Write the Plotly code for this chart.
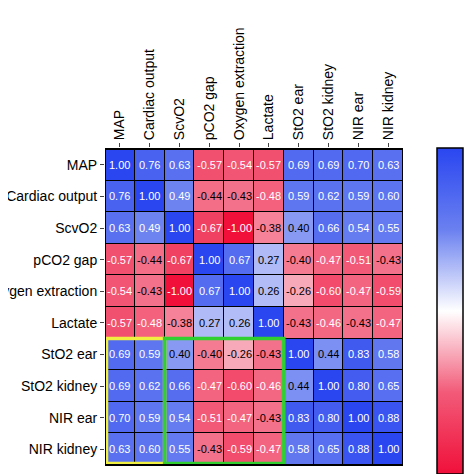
import plotly.graph_objects as go

labels = ["MAP", "Cardiac output", "ScvO2", "pCO2 gap", "Oxygen extraction", "Lactate",
          "StO2 ear", "StO2 kidney", "NIR ear", "NIR kidney"]
values = [
    [1.00, 0.76, 0.63, -0.57, -0.54, -0.57, 0.69, 0.69, 0.70, 0.63],
    [0.76, 1.00, 0.49, -0.44, -0.43, -0.48, 0.59, 0.62, 0.59, 0.60],
    [0.63, 0.49, 1.00, -0.67, -1.00, -0.38, 0.40, 0.66, 0.54, 0.55],
    [-0.57, -0.44, -0.67, 1.00, 0.67, 0.27, -0.40, -0.47, -0.51, -0.43],
    [-0.54, -0.43, -1.00, 0.67, 1.00, 0.26, -0.26, -0.60, -0.47, -0.59],
    [-0.57, -0.48, -0.38, 0.27, 0.26, 1.00, -0.43, -0.46, -0.43, -0.47],
    [0.69, 0.59, 0.40, -0.40, -0.26, -0.43, 1.00, 0.44, 0.83, 0.58],
    [0.69, 0.62, 0.66, -0.47, -0.60, -0.46, 0.44, 1.00, 0.80, 0.65],
    [0.70, 0.59, 0.54, -0.51, -0.47, -0.43, 0.83, 0.80, 1.00, 0.88],
    [0.63, 0.60, 0.55, -0.43, -0.59, -0.47, 0.58, 0.65, 0.88, 1.00],
]
idx = list(range(len(labels)))

fig = go.Figure(go.Heatmap(
    z=values, x=idx, y=idx, zmin=-1, zmax=1, xgap=1, ygap=1,
    colorscale=[[0, "#f0103a"], [0.25, "#f25a78"], [0.5, "#ffffff"],
                [0.75, "#6a80f0"], [1, "#2a46f0"]],
    colorbar=dict(thickness=26, len=1.025, y=0.488, ypad=0, x=1.08, xanchor="left",
                  outlinecolor="black", outlinewidth=1.5, ticks="", showticklabels=False),
))
ann = []
for i, row in enumerate(values):
    for j, v in enumerate(row):
        ann.append(dict(x=j, y=i, text=f"{v:.2f}", showarrow=False,
                        font=dict(size=11, color="white" if abs(v) > 0.45 else "black")))
fig.update_layout(
    annotations=ann,
    width=474, height=474, margin=dict(l=97, r=54, t=140, b=8),
    plot_bgcolor="black", paper_bgcolor="white",
    font=dict(family="Liberation Sans, Arial", size=14, color="black"),
    xaxis=dict(tickvals=idx, ticktext=labels, side="top", tickangle=-90, showgrid=False,
               zeroline=False, range=[-0.5, 9.5], ticks="outside", ticklen=4, automargin=False),
    yaxis=dict(tickvals=idx, ticktext=labels, autorange="reversed", showgrid=False,
               zeroline=False, ticks="outside", ticklen=4, automargin=False),
    shapes=[
        dict(type="rect", x0=-0.45, x1=1.5, y0=5.5, y1=9.45, line=dict(color="#f0f040", width=3.5)),
        dict(type="rect", x0=1.5, x1=5.5, y0=5.5, y1=9.45, line=dict(color="#30d030", width=3.5)),
        dict(type="rect", x0=-0.5, x1=9.5, y0=-0.5, y1=9.5, line=dict(color="black", width=2)),
    ],
)
fig.write_html("out.html")
